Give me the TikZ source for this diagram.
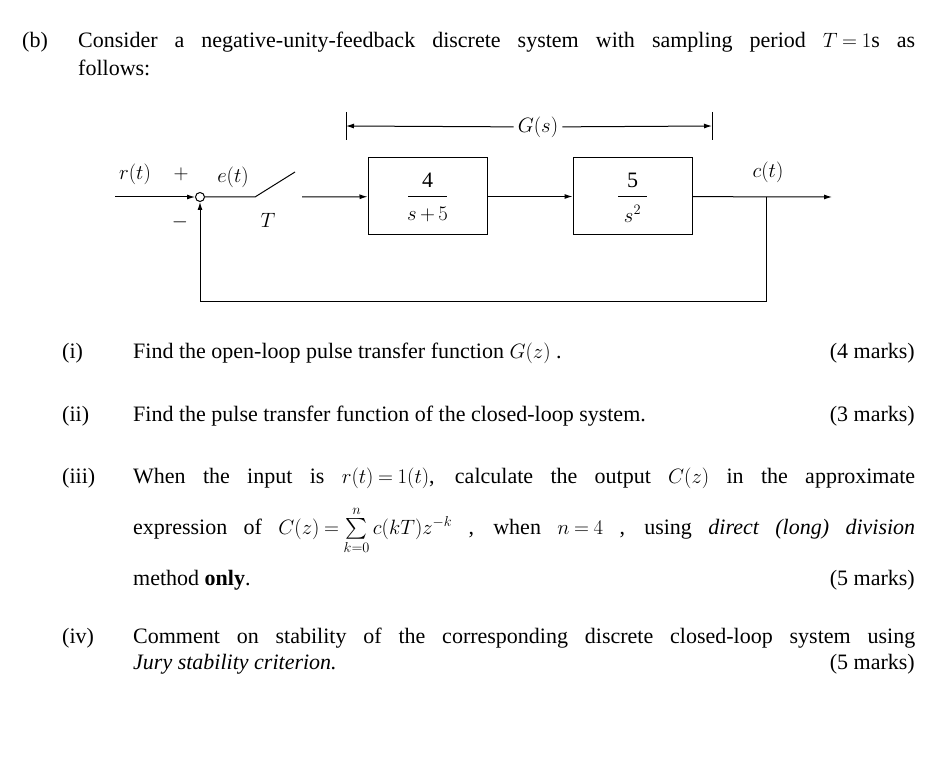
\documentclass[tikz,border=0pt]{standalone}
\usepackage{fontspec}
\setmainfont{Liberation Serif}
\usepackage{amsmath}
\usetikzlibrary{arrows.meta}
\thickmuskip=4mu
\medmuskip=3mu
\begin{document}
\begin{tikzpicture}[x=1pt,y=-1pt,font=\fontsize{22}{27}\selectfont,
  blk/.style={draw,line width=1pt,minimum width=119pt,minimum height=77pt,inner sep=0pt},
  wire/.style={line width=1pt},
  arr/.style={wire,-{Latex[length=8pt,width=5pt]}},
  lbl/.style={inner sep=0pt,anchor=base west},
  mk/.style={inner sep=0pt,anchor=base east}]
\useasboundingbox[fill=white] (0,0) rectangle (940,759);
% heading
\node[lbl] (b) at (22,48) {(b)};
\node[lbl] (l1) at (78,48) {\makebox[837pt][s]{Consider a negative-unity-feedback discrete system with sampling period $T=1$s as}};
\node[lbl] (l2) at (78,76) {follows:};
% diagram
\node[blk] (g1) at (427.5,196.5) {};
\node[inner sep=0pt] (n1) at (427.5,180) {4};
\draw[wire] (408,197) -- (447,197);
\node[inner sep=0pt] (d1) at (427.5,214) {$s+5$};
\node[blk] (g2) at (632.5,196.5) {};
\node[inner sep=0pt] (n2) at (632.5,180) {5};
\draw[wire] (618,197) -- (647,197);
\node[inner sep=0pt] (d2) at (632.5,214) {$s^2$};
\node[draw,circle,line width=1pt,minimum size=9pt,inner sep=0pt] (sum) at (200,197) {};
\coordinate (in) at (115,197);
\coordinate (sw1) at (255,197);
\coordinate (sw2) at (295,172);
\coordinate (sw3) at (302,197);
\coordinate (tap) at (766,197);
\coordinate (out) at (832,197);
\coordinate (fb1) at (766,302);
\coordinate (fb2) at (200,302);
\draw[arr] (in) -- (sum);
\draw[wire] (sum) -- (sw1) -- (sw2);
\draw[arr] (sw3) -- (g1);
\draw[arr] (g1) -- (g2);
\draw[arr] (g2) -- (out);
\draw[arr] (tap) -- (fb1) -- (fb2) -- (sum);
\node[inner sep=0pt] (rt) at (135,174) {$r(t)$};
\node[inner sep=0pt] (pl) at (181,174) {$+$};
\node[inner sep=0pt] (et) at (233,177) {$e(t)$};
\node[inner sep=0pt] (mi) at (180,222) {$-$};
\node[inner sep=0pt] (T) at (268,220) {$T$};
\node[inner sep=0pt] (ct) at (768,172) {$c(t)$};
% G(s) bracket
\coordinate (ba) at (346,126);
\coordinate (bb) at (712,126);
\draw[wire] (346,112) -- (346,140);
\draw[wire] (712,112) -- (712,140);
\node[fill=white,inner xsep=4pt,inner ysep=0pt] (gs) at (538,127) {$G(s)$};
\draw[arr] (gs) -- (ba);
\draw[arr] (gs) -- (bb);
% questions
\node[lbl] (q1) at (62,359) {(i)};
\node[lbl] (t1) at (133,359) {Find the open-loop pulse transfer function $G(z)$ .};
\node[mk] (m1) at (915,359) {(4 marks)};
\node[lbl] (q2) at (62,421) {(ii)};
\node[lbl] (t2) at (133,421) {Find the pulse transfer function of the closed-loop system.};
\node[mk] (m2) at (915,421) {(3 marks)};
\node[lbl] (q3) at (62,483) {(iii)};
\node[lbl] (t3) at (133,483) {\makebox[782pt][s]{When the input is $r(t)=1(t)$, calculate the output $C(z)$ in the approximate}};
\node[lbl] (t4) at (133,534) {\makebox[782pt][s]{expression of $C(z)=\sum\limits_{k=0}^{n}c(kT)z^{-k}$ , when $n=4$ , using \textit{direct (long) division}}};
\node[lbl] (t5) at (133,585) {method \textbf{only}.};
\node[mk] (m3) at (915,585) {(5 marks)};
\node[lbl] (q4) at (62,643) {(iv)};
\node[lbl] (t6) at (133,643) {\makebox[782pt][s]{Comment on stability of the corresponding discrete closed-loop system using}};
\node[lbl] (t7) at (133,669) {\textit{Jury stability criterion.}};
\node[mk] (m4) at (915,669) {(5 marks)};
\end{tikzpicture}
\end{document}
